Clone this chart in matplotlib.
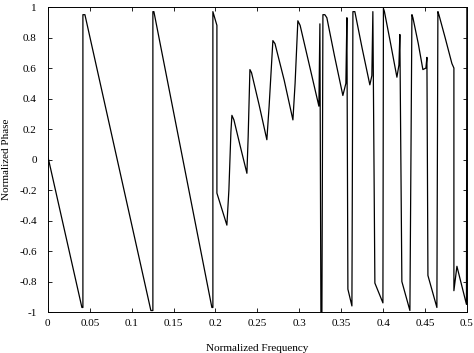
import matplotlib
matplotlib.use("Agg")
import matplotlib.pyplot as plt

plt.rcParams['font.family'] = ['Liberation Serif', 'DejaVu Serif']
plt.rcParams['axes.unicode_minus'] = False

# Normalized frequency / normalized phase
freq = [0.0, 0.0406, 0.0418, 0.0418, 0.0442, 0.1229, 0.1253, 0.1253, 0.1265,
        0.1957, 0.1969, 0.1969, 0.2017, 0.2017, 0.2136, 0.2160, 0.2184, 0.2196,
        0.2220, 0.2290, 0.2375, 0.2390, 0.2411, 0.2430, 0.2520, 0.2613, 0.2640,
        0.2685, 0.2710, 0.2820, 0.2924, 0.2950, 0.2983, 0.3010, 0.3120, 0.3234,
        0.3246, 0.3258, 0.3270, 0.3282, 0.3305, 0.3329, 0.3420, 0.3520, 0.3556,
        0.3568, 0.3580, 0.3628, 0.3640, 0.3663, 0.3750, 0.3842, 0.3866, 0.3878,
        0.3902, 0.3998, 0.4004, 0.4016, 0.4090, 0.4165, 0.4189, 0.4200, 0.4224,
        0.4320, 0.4344, 0.4356, 0.4420, 0.4475, 0.4511, 0.4523, 0.4535, 0.4642,
        0.4654, 0.4666, 0.4740, 0.4821, 0.4845, 0.4845, 0.4881, 0.4995, 0.5000]
phase = [0.02, -0.97, -0.97, 0.95, 0.95, -0.99, -0.99, 0.97, 0.97,
         -0.97, -0.97, 0.97, 0.88, -0.22, -0.43, -0.20, 0.18, 0.29,
         0.26, 0.10, -0.09, 0.15, 0.59, 0.57, 0.36, 0.13, 0.35,
         0.78, 0.76, 0.52, 0.26, 0.50, 0.91, 0.88, 0.62, 0.35,
         0.89, -1.0, -1.0, 0.95, 0.95, 0.93, 0.68, 0.42, 0.50,
         0.93, -0.85, -0.96, 0.97, 0.97, 0.73, 0.49, 0.55, 0.97,
         -0.81, -0.94, 0.99, 0.97, 0.76, 0.54, 0.62, 0.82, -0.80,
         -0.99, 0.95, 0.93, 0.76, 0.59, 0.60, 0.67, -0.76, -0.97,
         0.97, 0.95, 0.80, 0.63, 0.60, -0.86, -0.70, -0.95, 1.0]

xticks = [0, 0.05, 0.1, 0.15, 0.2, 0.25, 0.3, 0.35, 0.4, 0.45, 0.5]
xtick_labels = ["0", "0.05", "0.1", "0.15", "0.2", "0.25", "0.3", "0.35", "0.4", "0.45", "0.5"]
yticks = [-1, -0.8, -0.6, -0.4, -0.2, 0, 0.2, 0.4, 0.6, 0.8, 1]
ytick_labels = ["-1", "-0.8", "-0.6", "-0.4", "-0.2", "0", "0.2", "0.4", "0.6", "0.8", "1"]

fig = plt.figure(figsize=(4.74, 3.53), dpi=100)
ax = fig.add_axes([0.101, 0.116, 0.884, 0.864])
ax.plot(freq, phase, color='black', linewidth=0.9)
ax.set_xlim(0, 0.5)
ax.set_ylim(-1, 1)
ax.set_xticks(xticks)
ax.set_xticklabels(xtick_labels)
ax.set_yticks(yticks)
ax.set_yticklabels(ytick_labels)
ax.tick_params(direction='in', length=3, width=0.6, labelsize=8, top=True, right=True)
ax.tick_params(axis='y', pad=8)
ax.tick_params(axis='x', pad=5)
for s in ax.spines.values():
    s.set_linewidth(0.7)
ax.set_xlabel("Normalized Frequency", fontsize=8)
ax.set_ylabel("Normalized Phase", fontsize=8)
ax.xaxis.set_label_coords(0.5, -0.105)
ax.yaxis.set_label_coords(-0.088, 0.5)
fig.savefig("out.png", dpi=100)
